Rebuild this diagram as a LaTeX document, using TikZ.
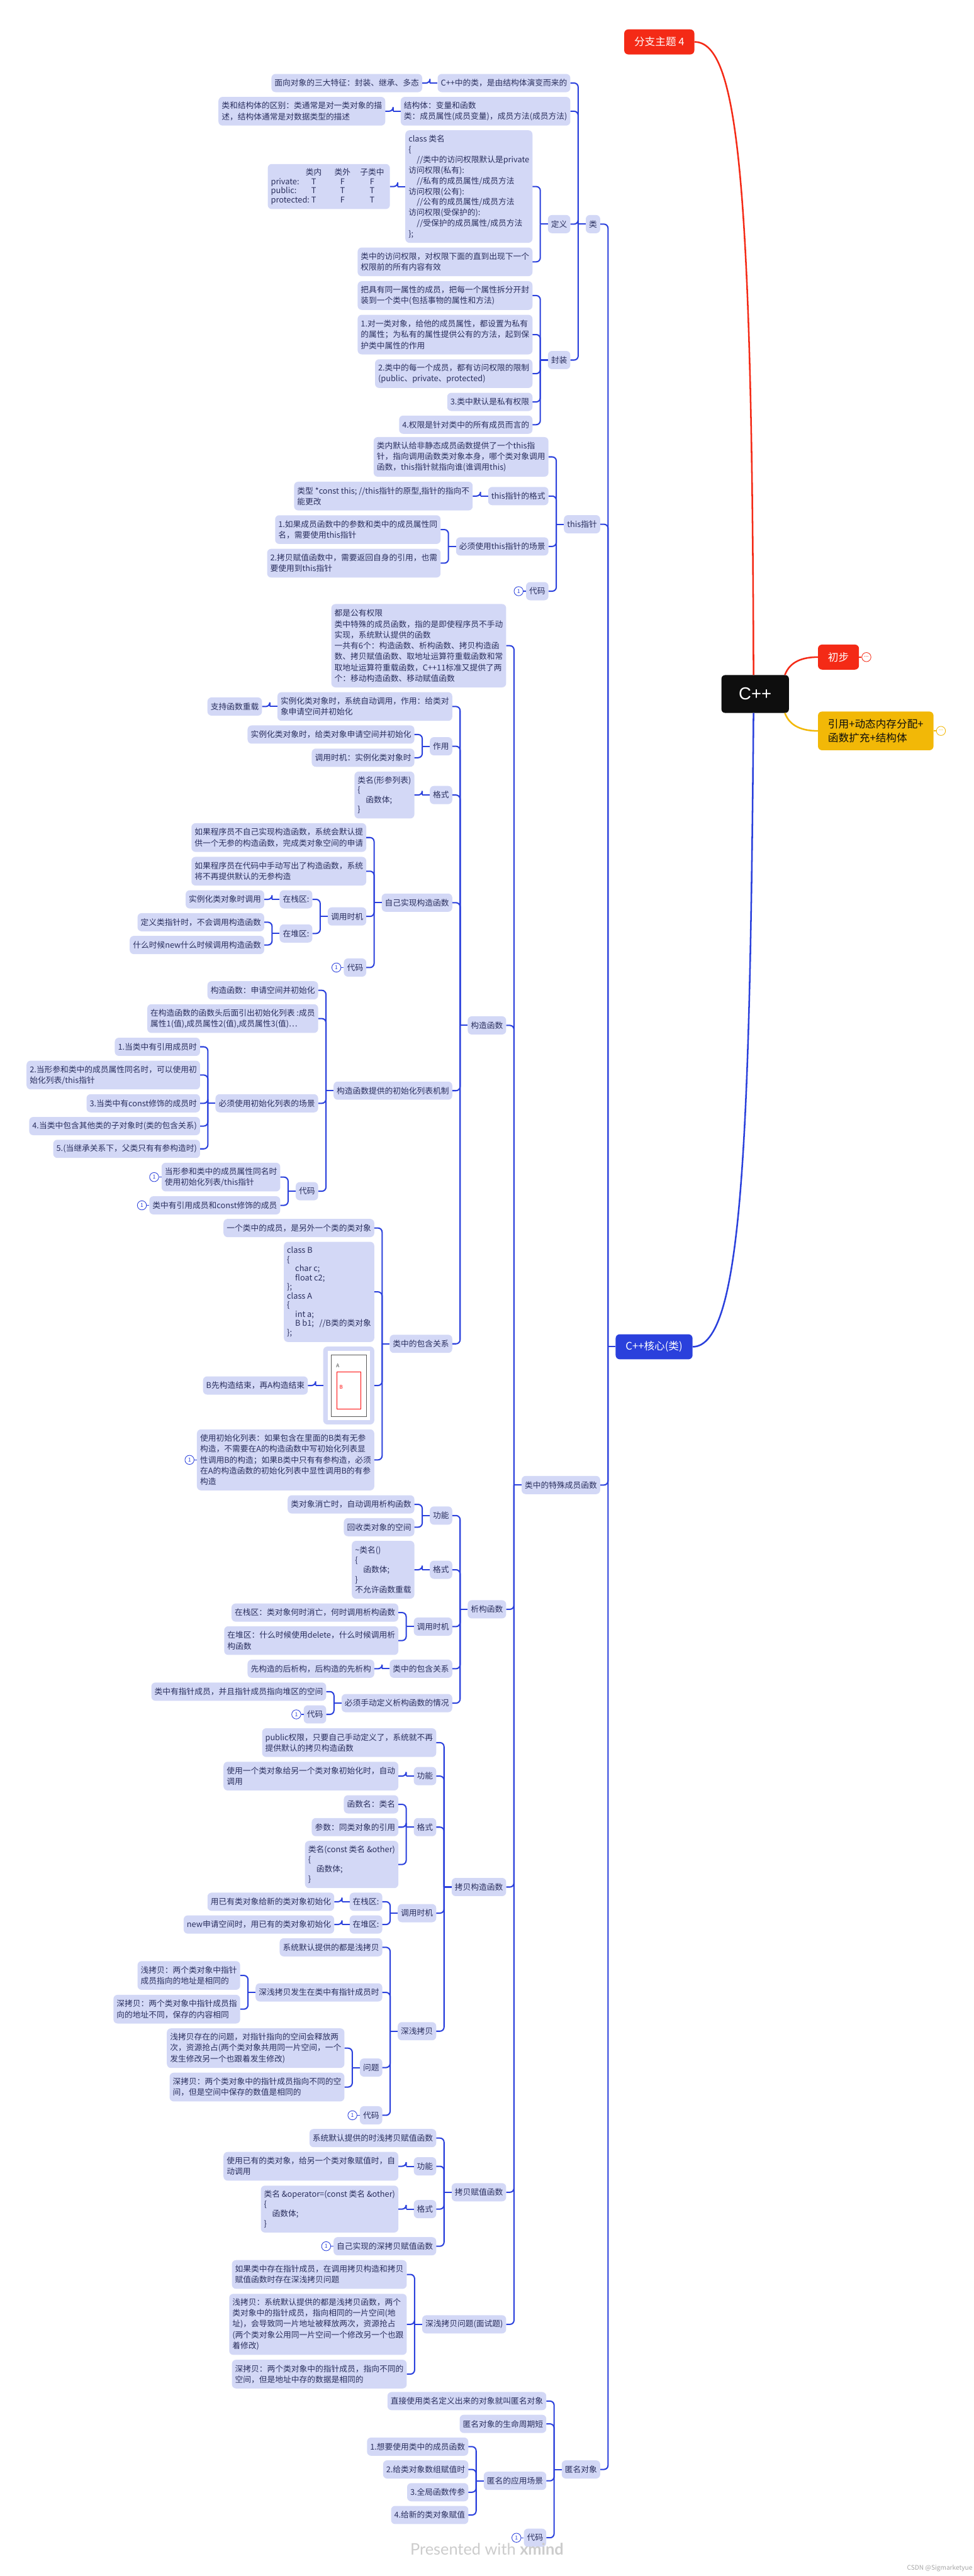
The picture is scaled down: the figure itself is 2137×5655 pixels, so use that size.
\documentclass[tikz,border=0pt]{standalone}
\usepackage{fontspec}
\setmainfont{Noto Sans CJK SC}
\newfontfamily\rootfont{Liberation Sans}
\newfontfamily\markfont{Lato}
\usetikzlibrary{positioning}
\definecolor{wire}{HTML}{2A40DC}
\definecolor{pale}{HTML}{D3D8F6}
\definecolor{ink}{HTML}{2A2F5E}
\definecolor{hot}{HTML}{F42A16}
\definecolor{gold}{HTML}{F2B807}
\definecolor{soot}{HTML}{0E0E0E}
\begin{document}
\begin{tikzpicture}[x=1pt, y=1pt, node distance=33.5pt,
    leaf/.style={rectangle, fill=pale, text=ink, rounded corners=9pt, align=left, inner xsep=7pt, inner ysep=0pt, minimum height=40pt, font=\fontsize{17.6}{23.8}\selectfont},
    twoline/.style={minimum height=63pt},
    threeline/.style={minimum height=87pt},
    fiveline/.style={minimum height=134pt},
    lead/.style={font=\fontsize{17.6}{#1}\selectfont},
    branch/.style={rectangle, rounded corners=9pt, align=left, inner xsep=22pt, inner ysep=0pt, minimum height=55pt, font=\fontsize{23}{30}\selectfont},
    fold/.style={circle, draw=wire, fill=white, text=wire, line width=1.2pt, minimum size=20pt, inner sep=0pt, font=\fontsize{12}{12}\selectfont},
    twig/.style={draw=wire, line width=2.8pt, rounded corners=9pt},
    limb/.style={line width=3.5pt}]
    \useasboundingbox (0,0) rectangle (2137,-5655);

    % Root and main branches
    \node[rectangle, fill=soot, text=white, rounded corners=8pt, minimum width=148pt, minimum height=83pt, font=\rootfont\fontsize{38}{38}\selectfont] (cpp) at (1657,-1523.5) {C++};
    \node[branch, fill=hot, text=white, right=63.4pt of cpp, yshift=81pt] (first) {初步};
    \node[branch, fill=gold, text=soot, minimum height=85pt, right=63.4pt of cpp, yshift=-81pt] (third) {引用+动态内存分配+\\函数扩充+结构体};
    \node[branch, fill=hot, text=white, left=59pt of cpp, yshift=1431.5pt] (topic) {分支主题 4};
    \node[branch, fill=wire, text=white, left=63pt of cpp, yshift=-1433pt] (core) {C++核心(类)};
    \node[fold, draw=hot, text=hot, right=5.5pt of first] (firstfold) {\raisebox{2pt}{...}};
    \node[fold, draw=gold, text=gold, right=5.5pt of third] (thirdfold) {\raisebox{2pt}{...}};

    % Class
    \node[leaf, left=of core, yshift=2464.5pt] (cls) {类};
    \node[leaf, left=of cls, yshift=309.7pt] (evolve) {C++中的类，是由结构体演变而来的};
    \node[leaf, left=of evolve] (feature) {面向对象的三大特征：封装、继承、多态};
    \node[leaf, twoline, left=of cls, yshift=247.8pt] (struct) {结构体：变量和函数\\类：成员属性(成员变量)，成员方法(成员方法)};
    \node[leaf, twoline, left=of struct] (diff) {类和结构体的区别：类通常是对一类对象的描\\述，结构体通常是对数据类型的描述};
    \node[leaf, left=of cls] (define) {定义};
    \node[leaf, lead=23.1, minimum height=247pt, left=of define, yshift=82.5pt] (syntax) {class 类名\\\{\\\hspace*{18pt}//类中的访问权限默认是private\\访问权限(私有):\\\hspace*{18pt}//私有的成员属性/成员方法\\访问权限(公有):\\\hspace*{18pt}//公有的成员属性/成员方法\\访问权限(受保护的):\\\hspace*{18pt}//受保护的成员属性/成员方法\\\};};
    \node[leaf, lead=20.4, minimum height=99pt, left=of syntax] (grid) {\makebox[64pt][l]{}\makebox[60pt]{类内}\makebox[66pt]{类外}\makebox[64pt]{子类中}\\\makebox[64pt][l]{private:}\makebox[60pt]{T}\makebox[66pt]{F}\makebox[64pt]{F}\\\makebox[64pt][l]{public:}\makebox[60pt]{T}\makebox[66pt]{T}\makebox[64pt]{T}\\\makebox[64pt][l]{protected:}\makebox[60pt]{T}\makebox[66pt]{F}\makebox[64pt]{T}};
    \node[leaf, twoline, left=of define, yshift=-82.8pt] (scope) {类中的访问权限，对权限下面的直到出现下一个\\权限前的所有内容有效};

    % Encapsulation
    \node[leaf, left=of cls, yshift=-298.4pt] (pack) {封装};
    \node[leaf, twoline, left=of pack, yshift=141.6pt] (packa) {把具有同一属性的成员，把每一个属性拆分开封\\装到一个类中(包括事物的属性和方法)};
    \node[leaf, threeline, left=of pack, yshift=55.9pt] (packb) {1.对一类对象，给他的成员属性，都设置为私有\\的属性；为私有的属性提供公有的方法，起到保\\护类中属性的作用};
    \node[leaf, twoline, left=of pack, yshift=-29.8pt] (packc) {2.类中的每一个成员，都有访问权限的限制\\(public、private、protected)};
    \node[leaf, left=of pack, yshift=-91.9pt] (packd) {3.类中默认是私有权限};
    \node[leaf, left=of pack, yshift=-141.9pt] (packe) {4.权限是针对类中的所有成员而言的};

    % This pointer
    \node[leaf, left=of core, yshift=1805.7pt] (this) {this指针};
    \node[leaf, threeline, left=of this, yshift=147.8pt] (thisa) {类内默认给非静态成员函数提供了一个this指\\针，指向调用函数类对象本身，哪个类对象调用\\函数，this指针就指向谁(谁调用this)};
    \node[leaf, left=of this, yshift=61.8pt] (thisform) {this指针的格式};
    \node[leaf, twoline, left=of thisform] (proto) {类型 *const this;\hspace{4pt}//this指针的原型,指针的指向不\\能更改};
    \node[leaf, left=of this, yshift=-48.7pt] (thismust) {必须使用this指针的场景};
    \node[leaf, twoline, left=of thismust, yshift=36.9pt] (musta) {1.如果成员函数中的参数和类中的成员属性同\\名，需要使用this指针};
    \node[leaf, twoline, left=of thismust, yshift=-36.8pt] (mustb) {2.拷贝赋值函数中，需要返回自身的引用，也需\\要使用到this指针};
    \node[leaf, left=of this, yshift=-147pt] (thiscode) {代码};
    \node[fold, left=5.5pt of thiscode] (thisfold) {1};

    % Special member functions
    \node[leaf, left=of core, yshift=-303.5pt] (special) {类中的特殊成员函数};
    \node[leaf, minimum height=183pt, left=of special, yshift=1842.5pt] (public) {都是公有权限\\类中特殊的成员函数，指的是即使程序员不手动\\实现，系统默认提供的函数\\一共有6个：构造函数、析构函数、拷贝构造函\\数、拷贝赋值函数、取地址运算符重载函数和常\\取地址运算符重载函数，C++11标准又提供了两\\个：移动构造函数、移动赋值函数};

    % Constructor
    \node[leaf, left=of special, yshift=1009pt] (ctor) {构造函数};
    \node[leaf, twoline, left=of ctor, yshift=700pt] (ctorauto) {实例化类对象时，系统自动调用，作用：给类对\\象申请空间并初始化};
    \node[leaf, left=of ctorauto] (overload) {支持函数重载};
    \node[leaf, left=of ctor, yshift=612.8pt] (ctoruse) {作用};
    \node[leaf, left=of ctoruse, yshift=25.7pt] (usea) {实例化类对象时，给类对象申请空间并初始化};
    \node[leaf, left=of ctoruse, yshift=-25.1pt] (useb) {调用时机：实例化类对象时};
    \node[leaf, left=of ctor, yshift=505.7pt] (ctorform) {格式};
    \node[leaf, lead=21.5, minimum height=103pt, left=of ctorform] (ctorbody) {类名(形参列表)\\\{\\\hspace*{18pt}函数体;\\\}};
    \node[leaf, left=of ctor, yshift=269.4pt] (own) {自己实现构造函数};
    \node[leaf, twoline, left=of own, yshift=143pt] (owna) {如果程序员不自己实现构造函数，系统会默认提\\供一个无参的构造函数，完成类对象空间的申请};
    \node[leaf, twoline, left=of own, yshift=69.1pt] (ownb) {如果程序员在代码中手动写出了构造函数，系统\\将不再提供默认的无参构造};
    \node[leaf, left=of own, yshift=-30.2pt] (owntime) {调用时机};
    \node[leaf, left=of owntime, yshift=37.5pt] (stack) {在栈区:};
    \node[leaf, left=of stack] (stacka) {实例化类对象时调用};
    \node[leaf, left=of owntime, yshift=-37.4pt] (heap) {在堆区:};
    \node[leaf, left=of heap, yshift=24.7pt] (heapa) {定义类指针时，不会调用构造函数};
    \node[leaf, left=of heap, yshift=-25.3pt] (heapb) {什么时候new什么时候调用构造函数};
    \node[leaf, left=of own, yshift=-142.4pt] (owncode) {代码};
    \node[fold, left=5.5pt of owncode] (ownfold) {1};

    % Initializer list
    \node[leaf, left=of ctor, yshift=-143.3pt] (init) {构造函数提供的初始化列表机制};
    \node[leaf, left=of init, yshift=220.3pt] (inita) {构造函数：申请空间并初始化};
    \node[leaf, twoline, left=of init, yshift=158.3pt] (initb) {在构造函数的函数头后面引出初始化列表 :成员\\属性1(值),成员属性2(值),成员属性3(值)…};
    \node[leaf, left=of init, yshift=-27.7pt] (initmust) {必须使用初始化列表的场景};
    \node[leaf, left=of initmust, yshift=124pt] (imusta) {1.当类中有引用成员时};
    \node[leaf, twoline, left=of initmust, yshift=62pt] (imustb) {2.当形参和类中的成员属性同名时，可以使用初\\始化列表/this指针};
    \node[leaf, left=of initmust] (imustc) {3.当类中有const修饰的成员时};
    \node[leaf, left=of initmust, yshift=-50pt] (imustd) {4.当类中包含其他类的子对象时(类的包含关系)};
    \node[leaf, left=of initmust, yshift=-100pt] (imuste) {5.(当继承关系下，父类只有有参构造时)};
    \node[leaf, left=of init, yshift=-220.7pt] (initcode) {代码};
    \node[leaf, twoline, left=of initcode, yshift=31pt] (codea) {当形参和类中的成员属性同名时\\使用初始化列表/this指针};
    \node[leaf, left=of initcode, yshift=-31pt] (codeb) {类中有引用成员和const修饰的成员};
    \node[fold, left=5.5pt of codea] (codeafold) {1};
    \node[fold, left=5.5pt of codeb] (codebfold) {1};

    % Containment
    \node[leaf, left=of ctor, yshift=-699pt] (hold) {类中的包含关系};
    \node[leaf, left=of hold, yshift=254.2pt] (holda) {一个类中的成员，是另外一个类的类对象};
    \node[leaf, lead=20, minimum height=220pt, left=of hold, yshift=114pt] (holdb) {class B\\\{\\\hspace*{18pt}char c;\\\hspace*{18pt}float c2;\\\};\\class A\\\{\\\hspace*{18pt}int a;\\\hspace*{18pt}B b1;\hspace{12pt}//B类的类对象\\\};};
    \node[leaf, minimum width=112pt, minimum height=171pt, left=of hold, yshift=-91.5pt] (shot) {};
    \node[fill=white, minimum width=92pt, minimum height=151pt, at=(shot)] (shotpage) {};
    \node[draw=black!65, line width=1pt, minimum width=76.5pt, minimum height=135.5pt, at=(shot)] (shota) {};
    \node[draw=red, line width=1pt, minimum width=52.8pt, minimum height=81.6pt, at=(shot), yshift=-10.3pt] (shotb) {};
    \node[text=black!75, font=\fontsize{11}{11}\selectfont, at=(shot), xshift=-24pt, yshift=44pt] (shotalabel) {A};
    \node[text=red, font=\fontsize{11}{11}\selectfont, at=(shot), xshift=-16.5pt, yshift=-3.5pt] (shotblabel) {B};
    \node[leaf, left=of shot] (order) {B先构造结束，再A构造结束};
    \node[leaf, fiveline, left=of hold, yshift=-254.8pt] (holdd) {使用初始化列表：如果包含在里面的B类有无参\\构造，不需要在A的构造函数中写初始化列表显\\性调用B的构造；如果B类中只有有参构造，必须\\在A的构造函数的初始化列表中显性调用B的有参\\构造};
    \node[fold, left=5.5pt of holdd] (holdfold) {1};

    % Destructor
    \node[leaf, left=of special, yshift=-272.8pt] (dtor) {析构函数};
    \node[leaf, left=of dtor, yshift=205.8pt] (dfun) {功能};
    \node[leaf, left=of dfun, yshift=24.5pt] (dfuna) {类对象消亡时，自动调用析构函数};
    \node[leaf, left=of dfun, yshift=-25.5pt] (dfunb) {回收类对象的空间};
    \node[leaf, left=of dtor, yshift=86.8pt] (dform) {格式};
    \node[leaf, lead=21.5, minimum height=127pt, left=of dform] (dbody) {\textasciitilde 类名()\\\{\\\hspace*{18pt}函数体;\\\}\\不允许函数重载};
    \node[leaf, left=of dtor, yshift=-38pt] (dtime) {调用时机};
    \node[leaf, left=of dtime, yshift=30.8pt] (dtimea) {在栈区：类对象何时消亡，何时调用析构函数};
    \node[leaf, twoline, left=of dtime, yshift=-30.7pt] (dtimeb) {在堆区：什么时候使用delete，什么时候调用析\\构函数};
    \node[leaf, left=of dtor, yshift=-130.5pt] (dhold) {类中的包含关系};
    \node[leaf, left=of dhold] (dholda) {先构造的后析构，后构造的先析构};
    \node[leaf, left=of dtor, yshift=-206pt] (dmust) {必须手动定义析构函数的情况};
    \node[leaf, left=of dmust, yshift=25.3pt] (dmusta) {类中有指针成员，并且指针成员指向堆区的空间};
    \node[leaf, left=of dmust, yshift=-24.7pt] (dcode) {代码};
    \node[fold, left=5.5pt of dcode] (dfold) {1};

    % Copy constructor
    \node[leaf, left=of special, yshift=-882.5pt] (copy) {拷贝构造函数};
    \node[leaf, twoline, left=of copy, yshift=317pt] (copya) {public权限，只要自己手动定义了，系统就不再\\提供默认的拷贝构造函数};
    \node[leaf, left=of copy, yshift=243.5pt] (copyfun) {功能};
    \node[leaf, twoline, left=of copyfun] (copyfuna) {使用一个类对象给另一个类对象初始化时，自动\\调用};
    \node[leaf, left=of copy, yshift=131.5pt] (copyform) {格式};
    \node[leaf, left=of copyform, yshift=50pt] (forma) {函数名：类名};
    \node[leaf, left=of copyform] (formb) {参数：同类对象的引用};
    \node[leaf, lead=21.5, minimum height=103.7pt, left=of copyform, yshift=-82pt] (formc) {类名(const 类名 \&other)\\\{\\\hspace*{18pt}函数体;\\\}};
    \node[leaf, left=of copy, yshift=-57.3pt] (copytime) {调用时机};
    \node[leaf, left=of copytime, yshift=25pt] (cstack) {在栈区:};
    \node[leaf, left=of cstack] (cstacka) {用已有类对象给新的类对象初始化};
    \node[leaf, left=of copytime, yshift=-25pt] (cheap) {在堆区:};
    \node[leaf, left=of cheap] (cheapa) {new申请空间时，用已有的类对象初始化};

    % Deep and shallow copy
    \node[leaf, left=of copy, yshift=-316.5pt] (deep) {深浅拷贝};
    \node[leaf, left=of deep, yshift=184.2pt] (deepa) {系统默认提供的都是浅拷贝};
    \node[leaf, left=of deep, yshift=85.2pt] (deepb) {深浅拷贝发生在类中有指针成员时};
    \node[leaf, twoline, left=of deepb, yshift=37.2pt] (deepba) {浅拷贝：两个类对象中指针\\成员指向的地址是相同的};
    \node[leaf, twoline, left=of deepb, yshift=-36.8pt] (deepbb) {深拷贝：两个类对象中指针成员指\\向的地址不同，保存的内容相同};
    \node[leaf, left=of deep, yshift=-79.8pt] (issue) {问题};
    \node[leaf, threeline, left=of issue, yshift=42.6pt] (issuea) {浅拷贝存在的问题，对指针指向的空间会释放两\\次，资源抢占(两个类对象共用同一片空间，一个\\发生修改另一个也跟着发生修改)};
    \node[leaf, twoline, left=of issue, yshift=-42.8pt] (issueb) {深拷贝：两个类对象中的指针成员指向不同的空\\间，但是空间中保存的数值是相同的};
    \node[leaf, left=of deep, yshift=-184.6pt] (deepcode) {代码};
    \node[fold, left=5.5pt of deepcode] (deepfold) {1};

    % Copy assignment
    \node[leaf, left=of special, yshift=-1552.5pt] (assign) {拷贝赋值函数};
    \node[leaf, left=of assign, yshift=118.9pt] (assigna) {系统默认提供的时浅拷贝赋值函数};
    \node[leaf, left=of assign, yshift=57pt] (assignfun) {功能};
    \node[leaf, twoline, left=of assignfun] (assignfuna) {使用已有的类对象，给另一个类对象赋值时，自\\动调用};
    \node[leaf, left=of assign, yshift=-37pt] (assignform) {格式};
    \node[leaf, lead=21.5, minimum height=103pt, left=of assignform] (assignbody) {类名 \&operator=(const 类名 \&other)\\\{\\\hspace*{18pt}函数体;\\\}};
    \node[leaf, left=of assign, yshift=-118.5pt] (assignown) {自己实现的深拷贝赋值函数};
    \node[fold, left=5.5pt of assignown] (assignfold) {1};

    % Interview question
    \node[leaf, left=of special, yshift=-1842.5pt] (quiz) {深浅拷贝问题(面试题)};
    \node[leaf, twoline, left=of quiz, yshift=109.5pt] (quiza) {如果类中存在指针成员，在调用拷贝构造和拷贝\\赋值函数时存在深浅拷贝问题};
    \node[leaf, fiveline, left=of quiz] (quizb) {浅拷贝：系统默认提供的都是浅拷贝函数，两个\\类对象中的指针成员，指向相同的一片空间(地\\址)，会导致同一片地址被释放两次，资源抢占\\(两个类对象公用同一片空间一个修改另一个也跟\\着修改)};
    \node[leaf, twoline, left=of quiz, yshift=-109.2pt] (quizc) {深拷贝：两个类对象中的指针成员，指向不同的\\空间，但是地址中存的数据是相同的};

    % Anonymous object
    \node[leaf, left=of core, yshift=-2464.5pt] (anon) {匿名对象};
    \node[leaf, left=of anon, yshift=150pt] (anona) {直接使用类名定义出来的对象就叫匿名对象};
    \node[leaf, left=of anon, yshift=100pt] (anonb) {匿名对象的生命周期短};
    \node[leaf, left=of anon, yshift=-25pt] (anonuse) {匿名的应用场景};
    \node[leaf, left=of anonuse, yshift=75pt] (usagea) {1.想要使用类中的成员函数};
    \node[leaf, left=of anonuse, yshift=25pt] (usageb) {2.给类对象数组赋值时};
    \node[leaf, left=of anonuse, yshift=-25pt] (usagec) {3.全局函数传参};
    \node[leaf, left=of anonuse, yshift=-75pt] (usaged) {4.给新的类对象赋值};
    \node[leaf, left=of anon, yshift=-150pt] (anoncode) {代码};
    \node[fold, left=5.5pt of anoncode] (anonfold) {1};

    % Marks
    \node[text=black!20, font=\markfont\fontsize{35}{35}\selectfont] (brand) at (1068.5,-5596) {Presented with \textbf{xmind}};
    \node[text=black!35, font=\fontsize{14}{14}\selectfont] (credit) at (2062,-5638) {CSDN @Sigmarketyue};

    % Connections
    \draw[hot, limb] ([xshift=-3.6pt]cpp.north) .. controls (1650,-400) and (1620,-92) .. (topic.east);
    \draw[wire, limb] ([xshift=-3.6pt]cpp.south) .. controls (1645,-2500) and (1630,-2956.5) .. (core.east);
    \draw[hot, limb] ([xshift=-9pt]cpp.north east) to[out=70, in=180] (first.west);
    \draw[gold, limb] ([xshift=-9pt]cpp.south east) to[out=-70, in=180] (third.west);
    \draw[hot, line width=2pt] (first) -- (firstfold);
    \draw[gold, line width=2pt] (third) -- (thirdfold);
    \foreach \kid/\up in {cls/core, this/core, special/core, anon/core,
        evolve/cls, struct/cls, define/cls, pack/cls, feature/evolve, diff/struct,
        syntax/define, scope/define, grid/syntax,
        packa/pack, packb/pack, packc/pack, packd/pack, packe/pack,
        thisa/this, thisform/this, thismust/this, thiscode/this, proto/thisform, musta/thismust, mustb/thismust,
        public/special, ctor/special, dtor/special, copy/special, assign/special, quiz/special,
        ctorauto/ctor, ctoruse/ctor, ctorform/ctor, own/ctor, init/ctor, hold/ctor,
        overload/ctorauto, usea/ctoruse, useb/ctoruse, ctorbody/ctorform,
        owna/own, ownb/own, owntime/own, owncode/own, stack/owntime, heap/owntime, stacka/stack, heapa/heap, heapb/heap,
        inita/init, initb/init, initmust/init, initcode/init,
        imusta/initmust, imustb/initmust, imustc/initmust, imustd/initmust, imuste/initmust, codea/initcode, codeb/initcode,
        holda/hold, holdb/hold, shot/hold, holdd/hold, order/shot,
        dfun/dtor, dform/dtor, dtime/dtor, dhold/dtor, dmust/dtor,
        dfuna/dfun, dfunb/dfun, dbody/dform, dtimea/dtime, dtimeb/dtime, dholda/dhold, dmusta/dmust, dcode/dmust,
        copya/copy, copyfun/copy, copyform/copy, copytime/copy, deep/copy,
        copyfuna/copyfun, forma/copyform, formb/copyform, formc/copyform, cstack/copytime, cheap/copytime, cstacka/cstack, cheapa/cheap,
        deepa/deep, deepb/deep, issue/deep, deepcode/deep, deepba/deepb, deepbb/deepb, issuea/issue, issueb/issue,
        assigna/assign, assignfun/assign, assignform/assign, assignown/assign, assignfuna/assignfun, assignbody/assignform,
        quiza/quiz, quizb/quiz, quizc/quiz,
        anona/anon, anonb/anon, anonuse/anon, anoncode/anon, usagea/anonuse, usageb/anonuse, usagec/anonuse, usaged/anonuse} {
        \draw[twig] (\kid.east) -| ([xshift=-16.5pt]\up.west);
        \draw[twig] ([xshift=-16.5pt]\up.west) -- (\up.west);
    }
    \foreach \mark/\item in {thisfold/thiscode, ownfold/owncode, codeafold/codea, codebfold/codeb, holdfold/holdd, dfold/dcode, deepfold/deepcode, assignfold/assignown, anonfold/anoncode}
        \draw[wire, line width=1.5pt] (\mark) -- (\item);
\end{tikzpicture}
\end{document}
